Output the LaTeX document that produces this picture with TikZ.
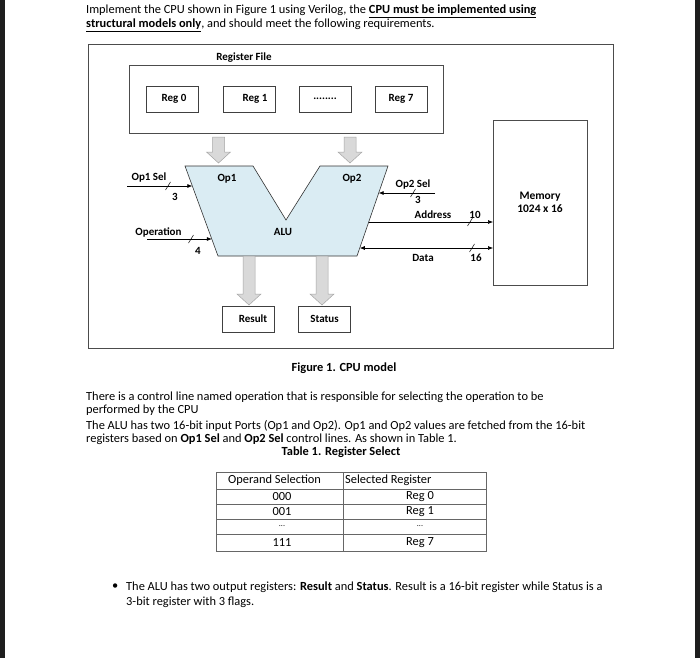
\documentclass[tikz,border=0pt]{standalone}
\usepackage{fontspec}
\setmainfont{Carlito}
\usetikzlibrary{arrows.meta}
\definecolor{alublue}{RGB}{218,236,243}
\definecolor{arrgray}{RGB}{217,217,217}
\definecolor{arredge}{RGB}{165,165,165}
\definecolor{edgebar}{RGB}{30,30,30}
\tikzset{
  lbl/.style={font=\fontsize{11}{12}\selectfont\bfseries, inner sep=0pt},
  body/.style={font=\fontsize{12.4}{14}\selectfont, inner sep=0pt, anchor=west},
  tbl/.style={font=\fontsize{12.4}{14}\selectfont, inner sep=0pt},
  regbox/.style={draw=black!75, line width=0.6pt, minimum width=52pt, minimum height=26pt, inner sep=0pt, font=\fontsize{11}{12}\selectfont\bfseries},
  sig/.style={line width=0.6pt, -{Latex[length=5pt,width=4pt]}},
  sigboth/.style={line width=0.6pt, {Latex[length=5pt,width=4pt]}-{Latex[length=5pt,width=4pt]}},
  blockarrow/.style={fill=arrgray, draw=arredge, line width=0.5pt},
  frame/.style={draw=black!70, line width=0.6pt},
}
\newcommand\blockarr[3]{%
  \draw[blockarrow] (#1-6,#2) -- (#1+6,#2) -- (#1+6,#3-11) -- (#1+12,#3-11) -- (#1,#3) -- (#1-12,#3-11) -- (#1-6,#3-11) -- cycle;}
\newcommand\busslash[2]{\draw[line width=0.5pt] (#1-2.5,#2+4) -- (#1+2.5,#2-4);}
\begin{document}
\begin{tikzpicture}[x=1pt,y=-1pt]
\useasboundingbox (0,0) rectangle (700,658);
\fill[white] (0,0) rectangle (700,658);
% page edge bars
\fill[edgebar] (0,0) rectangle (4.5,658);
\fill[edgebar] (695,0) rectangle (700,658);

% heading
\node[body] (t1) at (86,11.5) {Implement the CPU shown in Figure 1 using Verilog, the \textbf{\underline{CPU must be implemented using}}};
\node[body] (t2) at (86,25) {\textbf{\underline{structural models only}}, and should meet the following requirements.};

% figure frame
\draw[frame] (88,44) rectangle (613,348);
\node[lbl] (rftitle) at (244,58) {Register File};
\draw[frame] (129,65) rectangle (443,133);
\node[regbox] (r0) at (172.5,99) {\hspace*{3pt}Reg 0};
\node[regbox] (r1) at (249,99) {\hspace*{12pt}Reg 1};
\node[regbox] (rd) at (325,99) {........};
\node[regbox] (r7) at (401,99) {Reg 7};

% gray arrows to ALU
\blockarr{218.5}{137}{163}
\blockarr{350}{137}{163}

% ALU
\coordinate (A) at (185,166);
\coordinate (B) at (253,166);
\coordinate (C) at (286,220);
\coordinate (D) at (320,166);
\coordinate (E) at (388,166);
\coordinate (F) at (357,256);
\coordinate (G) at (218,256);
\draw[fill=alublue, draw=black!80, line width=0.6pt] (A) -- (B) -- (C) -- (D) -- (E) -- (F) -- (G) -- cycle;
\node[lbl] (op1) at (227,179) {Op1};
\node[lbl] (op2) at (352,179) {Op2};
\node[lbl] (alu) at (283,232) {ALU};

% Op1 Sel
\coordinate (op1in) at (127,186);
\coordinate (op1end) at (192.3,186);
\draw[sig] (op1in) -- (op1end);
\busslash{168}{186}
\node[lbl] (op1sel) at (149,178) {Op1 Sel};
\node[lbl] (op1w) at (175,197) {3};

% Operation
\coordinate (opin) at (147,239);
\coordinate (opend) at (211.8,239);
\draw[sig] (opin) -- (opend);
\busslash{191}{239}
\node[lbl] (oplbl) at (158.5,232) {Operation};
\node[lbl] (opw) at (198,251) {4};

% Op2 Sel
\coordinate (op2in) at (435,193);
\coordinate (op2end) at (378.7,193);
\draw[sig] (op2in) -- (op2end);
\busslash{413}{193}
\node[lbl] (op2sel) at (413,185) {Op2 Sel};
\node[lbl] (op2w) at (418,200) {3};

% Memory
\node[frame, minimum width=94pt, minimum height=165pt, inner sep=0pt, align=center, font=\fontsize{11.5}{13}\selectfont\bfseries] (mem) at (540,202.5) {Memory\\1024 x 16};

% Address
\coordinate (addrstart) at (368.7,222);
\coordinate (addrend) at (493,222);
\draw[sig] (addrstart) -- (addrend);
\busslash{470}{222}
\node[lbl] (addrlbl) at (433,215) {Address};
\node[lbl] (addrw) at (475,215) {10};

% Data
\coordinate (datastart) at (359.8,248);
\coordinate (dataend) at (493,248);
\draw[sigboth] (datastart) -- (dataend);
\busslash{472}{248}
\node[lbl] (datalbl) at (423,258) {Data};
\node[lbl] (dataw) at (476,258) {16};

% outputs
\blockarr{249}{256}{305}
\blockarr{322}{256}{305}
\node[regbox] (res) at (248.5,319) {\hspace*{9pt}Result};
\node[regbox] (stat) at (324.5,319) {Status};

% caption and text
\node[font=\fontsize{12.4}{14}\selectfont\bfseries, inner sep=0pt] (cap) at (344,368) {Figure 1. CPU model};
\node[body] (p1) at (86,397) {There is a control line named operation that is responsible for selecting the operation to be};
\node[body] (p2) at (86,410) {performed by the CPU};
\node[body] (p3) at (86,426) {The ALU has two 16-bit input Ports (Op1 and Op2). Op1 and Op2 values are fetched from the 16-bit};
\node[body] (p4) at (86,439) {registers based on \textbf{Op1 Sel} and \textbf{Op2 Sel} control lines. As shown in Table 1.};
\node[font=\fontsize{12.4}{14}\selectfont\bfseries, inner sep=0pt] (tcap) at (341,452) {Table 1. Register Select};

% table
\draw[draw=black!60, line width=0.8pt] (216,472) rectangle (486,551);
\foreach \yy in {489,504,519,534} \draw[draw=black!60, line width=0.8pt] (216,\yy) -- (486,\yy);
\draw[draw=black!60, line width=0.8pt] (343,472) -- (343,551);
\node[tbl, anchor=west] (h1) at (228,480.5) {Operand Selection};
\node[tbl, anchor=west] (h2) at (345,480.5) {Selected Register};
\node[tbl] (c1a) at (282,496.5) {000};
\node[tbl] (c1b) at (282,511.5) {001};
\node[tbl, font=\fontsize{8}{9}\selectfont] (c1c) at (282,526) {...};
\node[tbl] (c1d) at (282,543) {111};
\node[tbl] (c2a) at (420,496.5) {Reg 0};
\node[tbl] (c2b) at (420,511.5) {Reg 1};
\node[tbl, font=\fontsize{8}{9}\selectfont] (c2c) at (420,526) {...};
\node[tbl] (c2d) at (420,543) {Reg 7};

% bullet
\node[body] (bul) at (112,587) {•};
\node[body] (b1) at (126,587) {The ALU has two output registers: \textbf{Result} and \textbf{Status}. Result is a 16-bit register while Status is a};
\node[body] (b2) at (126,602) {3-bit register with 3 flags.};
\end{tikzpicture}
\end{document}
